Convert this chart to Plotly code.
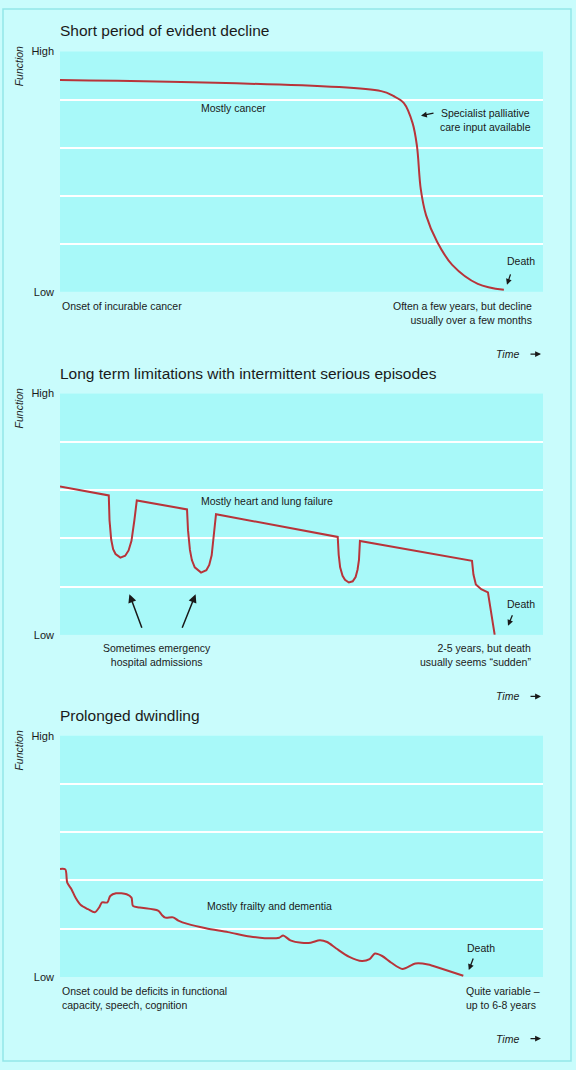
import plotly.graph_objects as go
from plotly.subplots import make_subplots

# ------------------------------------------------------------------ #
# Data (time in % of the plotted span, function 0 = Low .. 1 = High)
# ------------------------------------------------------------------ #

cancer_time = [0, 66.5, 69.0, 71.2, 73.0, 73.9, 74.7, 75.8, 78.1, 81.2, 86.5, 91.9]
cancer_function = [0.881, 0.835, 0.815, 0.785, 0.702, 0.607, 0.426, 0.318, 0.207, 0.112, 0.033, 0.008]

organ_time = [
    0, 10.1, 10.25, 10.6, 11.0, 11.5, 12.5, 13.5, 14.2, 14.8, 15.4, 15.9,
    26.3, 26.5, 26.9, 27.3, 27.9, 29.2, 30.3, 30.9, 31.4, 31.9, 32.3,
    57.5, 57.7, 58.0, 58.5, 59.0, 59.8, 60.6, 61.2, 61.6, 61.9, 62.1,
    85.3, 85.6, 86.1, 87.2, 88.6, 90.0,
]
organ_function = [
    0.615, 0.578, 0.475, 0.395, 0.355, 0.335, 0.320, 0.328, 0.350, 0.390, 0.475, 0.557,
    0.520, 0.434, 0.352, 0.310, 0.280, 0.258, 0.268, 0.290, 0.330, 0.414, 0.500,
    0.406, 0.332, 0.280, 0.245, 0.228, 0.217, 0.222, 0.240, 0.270, 0.311, 0.389,
    0.307, 0.250, 0.209, 0.189, 0.176, 0.0,
]

frailty_time = [
    0, 1.1, 1.5, 2.4, 3.2, 4.3, 5.8, 7.2, 8.1, 8.7, 9.8, 10.4, 11.6, 13.8,
    14.8, 15.1, 16.5, 20.3, 21.1, 21.8, 23.4, 24.5, 26.4, 30.2, 34.8, 39.3,
    42.4, 45.4, 46.2, 47.7, 50.0, 51.9, 53.8, 55.3, 57.2, 59.9, 62.5, 64.1,
    65.2, 66.7, 68.6, 70.9, 73.6, 76.2, 78.9, 83.5,
]
frailty_function = [
    0.448, 0.446, 0.391, 0.363, 0.329, 0.298, 0.281, 0.268, 0.288, 0.309,
    0.309, 0.336, 0.347, 0.343, 0.329, 0.295, 0.288, 0.275, 0.257, 0.246,
    0.247, 0.234, 0.220, 0.202, 0.186, 0.168, 0.161, 0.163, 0.172, 0.152,
    0.142, 0.142, 0.152, 0.145, 0.118, 0.083, 0.066, 0.074, 0.097, 0.087,
    0.059, 0.033, 0.056, 0.052, 0.035, 0.005,
]

panel_titles = [
    "Short period of evident decline",
    "Long term limitations with intermittent serious episodes",
    "Prolonged dwindling",
]

# ------------------------------------------------------------------ #
# Style
# ------------------------------------------------------------------ #

FONT = "Liberation Sans, Arial, sans-serif"
PAPER_BG = "#c9fcfc"
PLOT_BG = "#a8f9f9"
LINE_RED = "#b8343a"
TEXT = "#1a1a1a"
LABEL_SIZE = 10.5
W, H = 576, 1070

x_domain = [60 / W, 543 / W]
y_domains = [  # pixel top/bottom of each plot area
    (46, 289),
    (392, 636),
    (738, 982),
]
title_y = [25, 372, 718]
line_shapes = [
    dict(shape="spline", smoothing=1.0),
    dict(shape="linear"),
    dict(shape="spline", smoothing=0.8),
]

fig = make_subplots(rows=3, cols=1)

series = [
    (cancer_time, cancer_function),
    (organ_time, organ_function),
    (frailty_time, frailty_function),
]

for i, (xs, ys) in enumerate(series, start=1):
    fig.add_trace(
        go.Scatter(
            x=xs,
            y=ys,
            mode="lines",
            line=dict(color=LINE_RED, width=2, **line_shapes[i - 1]),
            hoverinfo="skip",
            showlegend=False,
        ),
        row=i,
        col=1,
    )

for i, (top, bottom) in enumerate(y_domains, start=1):
    fig.update_xaxes(
        domain=x_domain,
        range=[0, 100],
        visible=False,
        row=i,
        col=1,
    )
    fig.update_yaxes(
        domain=[1 - bottom / H, 1 - top / H],
        range=[0, 1],
        tickvals=[0, 1],
        ticktext=["Low", "High"],
        ticks="",
        showgrid=False,
        zeroline=False,
        showline=False,
        tickfont=dict(size=11, color=TEXT),
        ticklabelstandoff=5,
        minor=dict(dtick=0.2, showgrid=True, gridcolor="white", gridwidth=2),
        fixedrange=True,
        row=i,
        col=1,
    )

annotations = []


def label(x, y, text, xanchor="center", align="center", size=LABEL_SIZE, italic=False):
    """Text placed by pixel position on the page."""
    if italic:
        text = f"<i>{text}</i>"
    annotations.append(
        dict(
            xref="paper",
            yref="paper",
            x=x / W,
            y=1 - y / H,
            text=text,
            showarrow=False,
            xanchor=xanchor,
            yanchor="middle",
            align=align,
            font=dict(family=FONT, size=size, color=TEXT),
        )
    )


def arrow(x, y, ax, ay, size=0.9, width=1.3):
    annotations.append(
        dict(
            xref="paper",
            yref="paper",
            x=x / W,
            y=1 - y / H,
            ax=ax,
            ay=ay,
            text="",
            showarrow=True,
            arrowhead=2,
            arrowsize=size,
            arrowwidth=width,
            arrowcolor=TEXT,
        )
    )


# titles and y-axis captions
for i, ty in enumerate(title_y):
    label(58, ty, panel_titles[i], xanchor="left", align="left", size=15.5)
    annotations.append(
        dict(
            xref="paper",
            yref="paper",
            x=19 / W,
            y=1 - (y_domains[i][0] + 15) / H,
            text="<i>Function</i>",
            textangle=-90,
            showarrow=False,
            xanchor="center",
            yanchor="middle",
            font=dict(family=FONT, size=LABEL_SIZE, color=TEXT),
        )
    )

# panel 1
label(233, 103, "Mostly cancer")
label(485, 115.5, "Specialist palliative<br>care input available")
arrow(421, 111, 14, -3)
label(521, 258, "Death")
arrow(507, 282, 4, -12)
label(60, 303, "Onset of incurable cancer", xanchor="left", align="left")
label(534, 310, "Often a few years, but decline<br>usually over a few months",
      xanchor="right", align="right")
label(521, 352, "Time", xanchor="right", italic=True)
arrow(541, 352, -12, 0)

# panel 2
label(266.5, 500.7, "Mostly heart and lung failure")
arrow(129.4, 595, 13, 35, size=1.1, width=1.5)
arrow(195.6, 595, -14, 35, size=1.1, width=1.5)
label(157, 656.7, "Sometimes emergency<br>hospital admissions")
label(521, 605, "Death")
arrow(508, 626.7, 5, -12)
label(533, 656.5, "2-5 years, but death<br>usually seems \u201csudden\u201d",
      xanchor="right", align="right")
label(521, 698.3, "Time", xanchor="right", italic=True)
arrow(541, 698.3, -12, 0)

# panel 3
label(269.5, 910, "Mostly frailty and dementia")
label(481, 953, "Death")
arrow(468.8, 975, 5, -13)
label(60, 1003.7, "Onset could be deficits in functional<br>capacity, speech, cognition",
      xanchor="left", align="left")
label(464, 1003.7, "Quite variable \u2013<br>up to 6-8 years", xanchor="left", align="left")
label(521, 1044.3, "Time", xanchor="right", italic=True)
arrow(541, 1044.3, -12, 0)

fig.update_layout(
    width=W,
    height=H,
    margin=dict(l=0, r=0, t=0, b=0),
    paper_bgcolor=PAPER_BG,
    plot_bgcolor=PLOT_BG,
    font=dict(family=FONT, size=LABEL_SIZE, color=TEXT),
    annotations=annotations,
    shapes=[
        dict(
            type="rect",
            xref="paper",
            yref="paper",
            x0=3 / W,
            x1=1 - 5 / W,
            y0=3 / H,
            y1=1 - 3 / H,
            line=dict(color="#93e6e8", width=1.5),
            fillcolor="rgba(0,0,0,0)",
        )
    ],
)

fig.write_html(
    "out.html",
    config={"displayModeBar": False},
    post_script="document.body.style.margin='0';",
)
